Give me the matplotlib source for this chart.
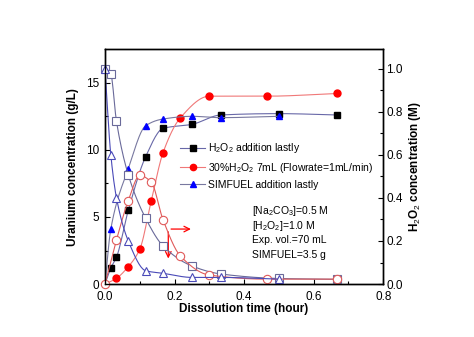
import numpy as np
import matplotlib
matplotlib.use('Agg')
import matplotlib.pyplot as plt

plt.rcParams['font.family'] = ['Liberation Sans', 'DejaVu Sans']
plt.rcParams['mathtext.fontset'] = 'custom'
plt.rcParams['mathtext.rm'] = 'Liberation Sans'
plt.rcParams['mathtext.it'] = 'Liberation Sans'

# uranium concentration (g/L), filled symbols, left axis
t_sq = [0.0, 0.0167, 0.033, 0.067, 0.117, 0.167, 0.25, 0.333, 0.5, 0.667]
u_sq = [0.0, 1.2, 2.0, 5.5, 9.5, 11.6, 11.9, 12.6, 12.7, 12.6]
t_ci = [0.0, 0.033, 0.067, 0.1, 0.133, 0.167, 0.217, 0.3, 0.467, 0.667]
u_ci = [0.0, 0.43, 1.3, 2.6, 6.2, 9.8, 12.4, 14.0, 14.0, 14.2]
t_tr = [0.0, 0.0167, 0.067, 0.117, 0.167, 0.25, 0.333, 0.5]
u_tr = [0.0, 4.1, 8.6, 11.8, 12.3, 12.5, 12.4, 12.5]

# H2O2 concentration (M), open symbols, right axis
t_osq = [0.0, 0.0167, 0.033, 0.067, 0.117, 0.167, 0.25, 0.333, 0.5, 0.667]
h_osq = [1.0, 0.975, 0.755, 0.507, 0.305, 0.177, 0.084, 0.047, 0.026, 0.022]
t_oci = [0.0, 0.033, 0.067, 0.1, 0.133, 0.167, 0.217, 0.3, 0.467, 0.667]
h_oci = [0.0, 0.205, 0.387, 0.504, 0.473, 0.298, 0.130, 0.042, 0.023, 0.023]
t_otr = [0.0, 0.0167, 0.033, 0.067, 0.117, 0.167, 0.25, 0.333, 0.5]
h_otr = [1.0, 0.60, 0.40, 0.20, 0.062, 0.05, 0.031, 0.031, 0.023]

labels = [r'H$_2$O$_2$ addition lastly',
          r'30%H$_2$O$_2$ 7mL (Flowrate=1mL/min)',
          'SIMFUEL addition lastly']
conditions = [r'[Na$_2$CO$_3$]=0.5 M', r'[H$_2$O$_2$]=1.0 M',
              'Exp. vol.=70 mL', 'SIMFUEL=3.5 g']


def smooth(x, y, n=200):
    # monotone cubic (pchip) through the points, only used for the drawn line
    x = np.asarray(x, float)
    y = np.asarray(y, float)
    h = np.diff(x)
    d = np.diff(y) / h
    m = np.zeros_like(y)
    for k in range(1, len(x) - 1):
        if d[k - 1] * d[k] > 0:
            w1 = 2 * h[k] + h[k - 1]
            w2 = h[k] + 2 * h[k - 1]
            m[k] = (w1 + w2) / (w1 / d[k - 1] + w2 / d[k])
    m[0] = d[0]
    m[-1] = d[-1]
    xs = np.linspace(x[0], x[-1], n)
    idx = np.clip(np.searchsorted(x, xs) - 1, 0, len(x) - 2)
    hk = h[idx]
    s = (xs - x[idx]) / hk
    h00 = 2 * s**3 - 3 * s**2 + 1
    h10 = s**3 - 2 * s**2 + s
    h01 = -2 * s**3 + 3 * s**2
    h11 = s**3 - s**2
    ys = h00 * y[idx] + h10 * hk * m[idx] + h01 * y[idx + 1] + h11 * hk * m[idx + 1]
    return xs, ys


fig = plt.figure(figsize=(4.74, 3.37), dpi=100)
ax = fig.add_axes([0.2215, 0.157, 0.587, 0.697])
ax2 = ax.twinx()

c_sq_line = '#6868a8'
c_ci_line = '#f07878'
c_tr_line = '#7878a0'

handles = []
# filled symbols - uranium
for t, u, mk, fc, lc, lab in [(t_sq, u_sq, 's', 'black', c_sq_line, labels[0]),
                              (t_ci, u_ci, 'o', '#ff0000', c_ci_line, labels[1]),
                              (t_tr, u_tr, '^', '#0000ff', c_tr_line, labels[2])]:
    xs, ys = smooth(t, u)
    ax.plot(xs, ys, color=lc, lw=0.8)
    ax.plot(t[1:], u[1:], mk, color=fc, ms=5, mec=fc, ls='none')
    h, = ax.plot([], [], color=lc, lw=0.8, marker=mk, mfc=fc, mec=fc, ms=4.5, label=lab)
    handles.append(h)

# open symbols - H2O2
for t, hv, mk, ec in [(t_osq, h_osq, 's', '#6a6a9a'),
                      (t_oci, h_oci, 'o', '#e05a5a'),
                      (t_otr, h_otr, '^', '#4a4ab8')]:
    xs, ys = smooth(t, hv)
    ax2.plot(xs, ys, color=ec, lw=0.8)
    ax2.plot(t, hv, mk, mfc='white', mec=ec, ms=6, mew=0.8, ls='none', clip_on=False)

# red arrows
ax.annotate('', xy=(0.255, 4.1), xytext=(0.182, 4.1),
            arrowprops=dict(arrowstyle='->', color='red', lw=0.9))
ax.annotate('', xy=(0.182, 1.7), xytext=(0.182, 4.1),
            arrowprops=dict(arrowstyle='->', color='red', lw=0.9))

ax.set_xlim(0, 0.8)
ax.set_ylim(0, 17.5)
ax2.set_ylim(0, 1.09)
ax.set_xticks([0.0, 0.2, 0.4, 0.6, 0.8])
ax.set_xticks(np.arange(0.1, 0.8, 0.2), minor=True)
ax.set_xticklabels(['0.0', '0.2', '0.4', '0.6', '0.8'])
ax.set_yticks([0, 5, 10, 15])
ax.set_yticks([2.5, 7.5, 12.5], minor=True)
ax2.set_yticks([0.0, 0.2, 0.4, 0.6, 0.8, 1.0])
ax2.set_yticks(np.arange(0.1, 1.05, 0.2), minor=True)
ax2.set_yticklabels(['0.0', '0.2', '0.4', '0.6', '0.8', '1.0'])

for a in (ax, ax2):
    a.tick_params(direction='in', length=3.5, width=0.8, labelsize=8.5, pad=2)
    a.tick_params(which='minor', direction='in', length=2, width=0.8)
    for s in a.spines.values():
        s.set_linewidth(1.0)
ax.tick_params(axis='x', pad=5)
ax.tick_params(axis='y', pad=4)

ax.set_xlabel('Dissolution time (hour)', fontsize=8.5, fontweight='bold', labelpad=0)
ax.set_ylabel('Uranium concentration (g/L)', fontsize=8.5, fontweight='bold', labelpad=5)
ax2.set_ylabel(r'H$_2$O$_2$ concentration (M)', fontsize=8.5, fontweight='bold', labelpad=3)

ax2.legend(handles=handles, loc='upper left', bbox_to_anchor=(0.255, 0.625), frameon=False,
           fontsize=7.5, handlelength=2.4, handletextpad=0.3,
           labelspacing=0.5, borderaxespad=0)

for i, txt in enumerate(conditions):
    ax2.text(0.53, 0.31 - i * 0.062, txt, transform=ax.transAxes, fontsize=7.5,
             va='center', ha='left')

fig.savefig('out.png', dpi=100)
